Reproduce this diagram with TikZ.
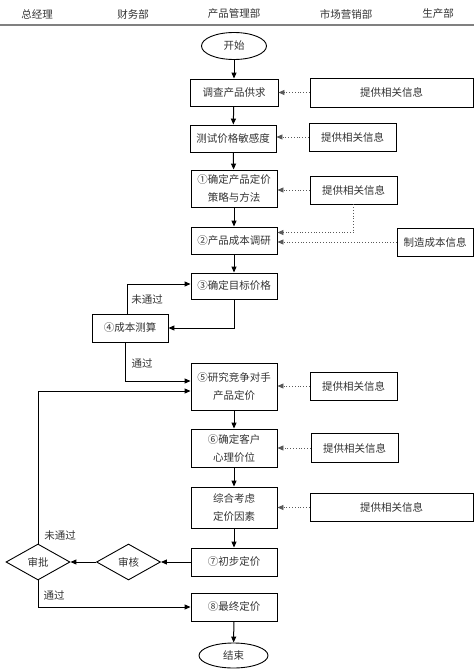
\documentclass[tikz,border=0pt]{standalone}
\usepackage{fontspec}
\setmainfont{Noto Sans CJK SC}
\usetikzlibrary{shapes, arrows.meta, positioning, calc}

\begin{document}
\begin{tikzpicture}[x=1pt, y=-1pt,
	every node/.style={font=\fontsize{10.5}{18}\selectfont, text=black!80},
	box/.style={draw, line width=0.9pt, minimum width=86pt, minimum height=27pt, inner sep=2pt, align=center},
	infobox/.style={box, minimum width=87pt, minimum height=28pt},
	term/.style={draw, line width=0.9pt, ellipse, minimum width=65pt, minimum height=27pt, inner sep=1pt},
	check/.style={draw, line width=0.9pt, diamond, aspect=1.8, minimum width=64pt, minimum height=36pt, inner sep=0pt},
	flow/.style={draw, line width=1pt, -{Triangle[length=6pt, width=5pt]}},
	feed/.style={draw, black!65, line width=0.8pt, dotted, -{Triangle[length=6pt, width=5pt]}},
	note/.style={inner sep=1pt}]
	\useasboundingbox (0,0) rectangle (474,671);
	% header
	\node (gm) at (37,14) {总经理};
	\node (fin) at (133,14) {财务部};
	\node (pm) at (234,14) {产品管理部};
	\node (mkt) at (346,14) {市场营销部};
	\node (prod) at (438,14) {生产部};
	\draw[gray, line width=1.2pt] (0,25) -- (474,25);
	% main column
	\node[term] (start) at (234,46) {开始};
	\node[box, minimum width=88pt] (survey) at (234,92.5) {调查产品供求};
	\node[box] (test) at (233,138.5) {测试价格敏感度};
	\node[box, minimum height=37pt] (strategy) at (234,188.5) {①确定产品定价\\策略与方法};
	\node[box] (cost) at (234,240.5) {②产品成本调研};
	\node[box, minimum height=26pt] (target) at (234,286) {③确定目标价格};
	\node[box, minimum width=76pt, minimum height=28pt] (calc) at (130,328) {④成本测算};
	\node[box, minimum height=47pt] (rival) at (234,386.5) {⑤研究竞争对手\\产品定价};
	\node[box, minimum height=38pt] (client) at (234,448) {⑥确定客户\\心理价位};
	\node[box, minimum height=41pt] (factor) at (234,507.5) {综合考虑\\定价因素};
	\node[box, minimum height=28pt] (draft) at (234,562) {⑦初步定价};
	\node[check] (review) at (128.5,562) {审核};
	\node[check] (approve) at (38,562) {审批};
	\node[box, minimum height=28pt] (final) at (234,607) {⑧最终定价};
	\node[term, minimum width=69pt, minimum height=25pt] (end) at (233.5,655.5) {结束};
	% information boxes
	\node[infobox, minimum width=163pt, minimum height=29pt] (info1) at (391.5,92.5) {提供相关信息};
	\node[infobox] (info2) at (352.5,137) {提供相关信息};
	\node[infobox] (info3) at (353.5,190) {提供相关信息};
	\node[infobox, minimum width=76pt] (info4) at (435,242) {制造成本信息};
	\node[infobox] (info5) at (353.5,386) {提供相关信息};
	\node[infobox, minimum height=29pt] (info6) at (354.5,448) {提供相关信息};
	\node[infobox, minimum width=163pt] (info7) at (391.5,507.5) {提供相关信息};
	% main flow
	\draw[flow] (start) -- (survey);
	\draw[flow] (survey) -- (test);
	\draw[flow] (test) -- (strategy);
	\draw[flow] (strategy) -- (cost);
	\draw[flow] (cost) -- (target);
	\draw[flow] (target.south) |- (calc.east);
	\draw[flow] ([xshift=-3pt]calc.north) |- ([yshift=2pt]target.west);
	\draw[flow] ([xshift=-5pt]calc.south) |- ([yshift=5.5pt]rival.west);
	\draw[flow] (rival) -- (client);
	\draw[flow] (client) -- (factor);
	\draw[flow] (factor) -- (draft);
	\draw[flow] (draft) -- (review);
	\draw[flow] (review) -- (approve);
	\draw[flow] (approve.north) |- ([yshift=-4.5pt]rival.west);
	\draw[flow] (approve.south) |- (final.west);
	\draw[flow] (final) -- (end);
	% labels
	\node[note] (fail1) at (147,300) {未通过};
	\node[note] (pass1) at (142,363) {通过};
	\node[note] (fail2) at (60,536) {未通过};
	\node[note] (pass2) at (54,595) {通过};
	% information flow
	\draw[feed] (info1) -- (survey);
	\draw[feed] (info2.west) -- (info2.west -| test.east);
	\draw[feed] (info3.west) -- (info3.west -| strategy.east);
	\draw[feed] (info3.south) |- ([yshift=8pt]cost.east);
	\draw[feed] (info4.west) -- (info4.west -| cost.east);
	\draw[feed] (info5.west) -- (info5.west -| rival.east);
	\draw[feed] (info6) -- (client);
	\draw[feed] (info7) -- (factor);
\end{tikzpicture}
\end{document}
